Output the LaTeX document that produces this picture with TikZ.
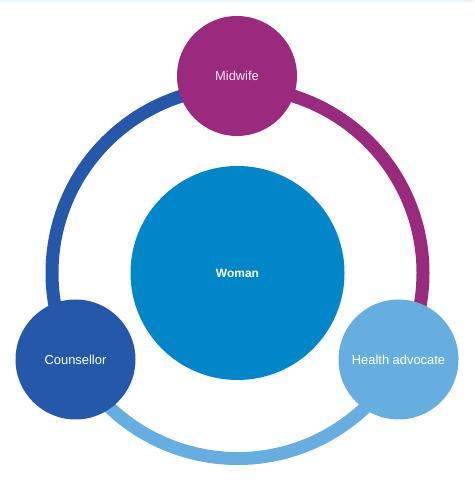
\documentclass[tikz,border=0pt]{standalone}
\usepackage{fontspec}
\setmainfont{Liberation Sans}
\usetikzlibrary{positioning}
\definecolor{carepurple}{HTML}{9A2A7D}
\definecolor{careblue}{HTML}{2558A8}
\definecolor{carecentre}{HTML}{0086C9}
\definecolor{carelight}{HTML}{67AEE0}
\definecolor{caretop}{HTML}{E8F6FA}
\tikzset{
  role/.style={circle, minimum size=120pt, inner sep=0pt, font=\fontsize{12.9}{15}\selectfont},
  ringarc/.style={line width=13pt}
}

\begin{document}
\begin{tikzpicture}[x=1pt, y=1pt]
      \useasboundingbox (0,0) rectangle (474,489);
      \fill[caretop] (0,486.5) rectangle (474,489);
      % centre and ring
      \node[circle, fill=carecentre, minimum size=214pt, inner sep=0pt, text=white,
        font=\fontsize{12}{14}\selectfont\bfseries] (woman) at (237.5,216) {Woman};
      \draw[ringarc, careblue] (woman.center) ++(90:185.5) arc[start angle=90, end angle=208, radius=185.5];
      \draw[ringarc, carepurple] (woman.center) ++(90:185.5) arc[start angle=90, end angle=-28, radius=185.5];
      \draw[ringarc, carelight] (woman.center) ++(208:185.5) arc[start angle=208, end angle=332, radius=185.5];
      % the three roles
      \node[role, fill=carepurple, text=white!90!magenta] (midwife) at (237,413) {Midwife};
      \node[role, fill=careblue, text=white] (counsellor) at (75.5,129.5) {Counsellor};
      \node[role, fill=carelight, text=white] (advocate) at (398.5,129.5) {Health advocate};
    \end{tikzpicture}
\end{document}
